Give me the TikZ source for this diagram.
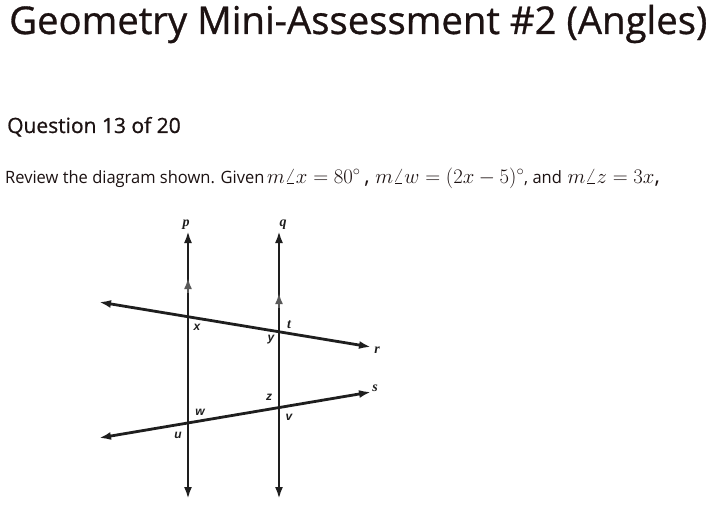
\documentclass[tikz,border=0pt]{standalone}
\usepackage{amsmath}
\usepackage{fontspec}
\setmainfont{Open Sans}
\newfontfamily\lblsans{Liberation Sans}
\newfontfamily\lblserif{Liberation Serif}
\newfontfamily\heavysans[FakeBold=0.8]{Open Sans}
\usetikzlibrary{arrows.meta}
\definecolor{ink}{HTML}{1C1212}
\definecolor{linec}{HTML}{1E1E1E}
\tikzset{
  ln/.style={line width=2.8pt, draw=linec, {Latex[length=12pt,width=8pt]}-{Latex[length=12pt,width=8pt]}},
  pmark/.style={line width=2.8pt, draw=gray!70!black, -{Latex[length=11pt,width=8pt]}},
  lblA/.style={font=\lblsans\bfseries\itshape\fontsize{12}{13}\selectfont, inner sep=0pt, text=linec},
  lblB/.style={font=\lblserif\bfseries\itshape\fontsize{14}{15}\selectfont, inner sep=0pt, text=linec},
  txt/.style={anchor=base west, inner sep=0pt, text=ink}
}
\begin{document}
\begin{tikzpicture}[x=1pt,y=-1pt]
\useasboundingbox[fill=white] (0,0) rectangle (717,505);
\node[txt, font=\heavysans\fontsize{38.3}{42}\selectfont] (title) at (9,34) {Geometry Mini-Assessment \#2 (Angles)};
\node[txt, font=\heavysans\fontsize{21}{24}\selectfont] (qn) at (7,133) {Question 13 of 20};
\node[txt] (rev) at (5,183) {\scalebox{0.97}[1]{\fontsize{17}{20}\selectfont Review the diagram shown. Given} \fontsize{22}{24}\selectfont$m\angle x=80^{\circ}$\,, $m\angle w=(2x-5)^{\circ}$\scalebox{0.97}[1]{\fontsize{17}{20}\selectfont, and} $m\angle z=3x$,};
% line ends
\coordinate (pT) at (188,231);
\coordinate (pB) at (188,499);
\coordinate (qT) at (279,231);
\coordinate (qB) at (279,499);
\coordinate (rL) at (99,302);
\coordinate (rR) at (371,347);
\coordinate (sL) at (99,438);
\coordinate (sR) at (371,392);
\draw[ln] (pT) -- (pB);
\draw[ln] (qT) -- (qB);
\draw[ln] (rL) -- (rR);
\draw[ln] (sL) -- (sR);
% parallel marks
\coordinate (pm1) at (188,293);
\coordinate (pm2) at (188,278);
\coordinate (qm1) at (279,308);
\coordinate (qm2) at (279,293);
\draw[pmark] (pm1) -- (pm2);
\draw[pmark] (qm1) -- (qm2);
% line labels
\node[lblB] (lp) at (186,225) {p};
\node[lblB] (lq) at (283,225) {q};
\node[lblB] (lr) at (377,350) {r};
\node[lblB] (ls) at (375,388) {s};
\node[lblB] (lt) at (289,325) {t};
% angle labels
\node[lblA] (lx) at (197,327) {x};
\node[lblA] (ly) at (271,340) {y};
\node[lblA] (lz) at (269,397) {z};
\node[lblA] (lw) at (200,412) {w};
\node[lblA] (lv) at (289,417) {v};
\node[lblA] (lu) at (178,435) {u};
\end{tikzpicture}
\end{document}
